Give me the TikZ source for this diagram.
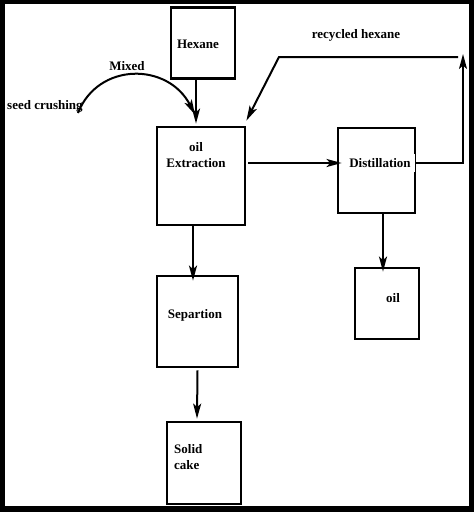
\documentclass[tikz,border=0pt]{standalone}
\usepackage{fontspec}
\setmainfont{Liberation Serif}
\usetikzlibrary{arrows.meta}
\usetikzlibrary{calc,positioning}

\begin{document}
\begin{tikzpicture}[x=1pt, y=-1pt]
	\tikzstyle{unit}=[draw, line width=2.8pt, rectangle, inner sep=0pt]
	\tikzstyle{word}=[font=\bfseries\fontsize{13}{15.5}\selectfont, inner sep=1pt]
	\tikzstyle{flow}=[-{Stealth[length=15pt, width=8pt, inset=3.5pt]}, line width=2pt]

	\fill[black] (0,0) rectangle (474,512);
	\fill[white] (5,4) rectangle (469,506);
	\useasboundingbox (0,0) rectangle (474,512);

	\node[unit, minimum width=64pt, minimum height=71pt] (hexane) at (203,43) {};
	\node[unit, minimum width=88pt, minimum height=98pt] (extraction) at (201,176) {};
	\node[unit, minimum width=77pt, minimum height=85pt] (distill) at (376.5,170.5) {};
	\node[unit, minimum width=81pt, minimum height=91pt] (separ) at (197.5,321.5) {};
	\node[unit, minimum width=64pt, minimum height=71pt] (oilbox) at (387,303.5) {};
	\node[unit, minimum width=74pt, minimum height=82pt] (cake) at (204,463) {};

	\node[word] (hexaneT) at (198,44) {Hexane};
	\node[word, align=center] (extractionT) at (196,155) {oil\\Extraction};
	\node[word, fill=white, inner sep=4pt] (distillT) at (380,163) {Distillation};
	\node[word] (separT) at (195,315) {Separtion};
	\node[word] (oilT) at (393,298) {oil};
	\node[word, align=left, anchor=west] (cakeT) at (173,457) {Solid\\cake};
	\node[word] (recycledT) at (356,35) {recycled hexane};
	\node[word] (mixedT) at (127,66) {Mixed};
	\node[word, anchor=west] (seedT) at (6,106) {seed crushing};

	\coordinate (seed) at (78,113);
	\coordinate (turn) at (463,54);
	\coordinate (backA) at (458,57);
	\coordinate (backB) at (279,57);

	\draw[flow] ([xshift=-7pt]hexane.south) -- ([xshift=-5pt, yshift=2pt]extraction.north);
	\draw[flow] (seed) .. controls (98,62) and (168,62) .. ([xshift=-6pt, yshift=11pt]extraction.north);
	\draw[flow] ([xshift=2pt, yshift=13pt]extraction.east) -- ([xshift=5pt, yshift=7.5pt]distill.west);
	\draw[flow] ([yshift=7.5pt]distill.east) -| (turn);
	\draw[flow] (backA) -- (backB) -- ([yshift=5pt]extraction.north east);
	\draw[flow] ([xshift=-8pt]extraction.south) -- ([xshift=-4.5pt, yshift=-6pt]separ.north);
	\draw[flow] ([xshift=6.5pt]distill.south) -- ([xshift=-4pt, yshift=-5pt]oilbox.north);
	\draw[flow] ([yshift=-2pt]separ.south) -- ([xshift=-7pt, yshift=2pt]cake.north);

\end{tikzpicture}
\end{document}
